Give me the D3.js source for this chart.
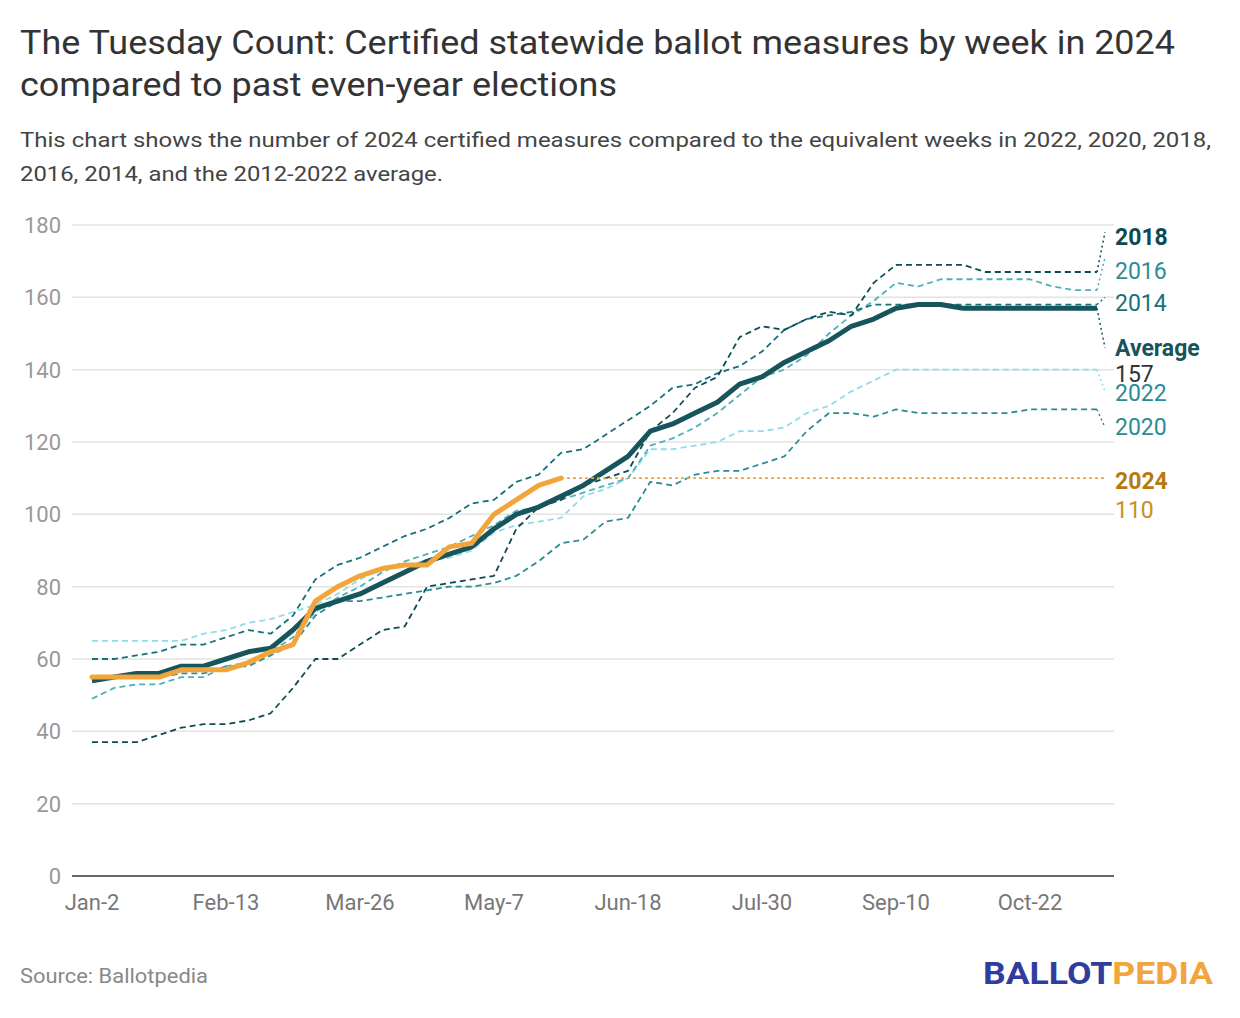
<!DOCTYPE html>
<html><head><meta charset="utf-8">
<script src="https://cdn.jsdelivr.net/npm/d3@7"></script>
<style>body{margin:0;background:#fff;font-family:Roboto,sans-serif}</style></head>
<body><svg id="c" width="1240" height="1018"></svg>
<script>
const weekLabels = ["Jan-2","Feb-13","Mar-26","May-7","Jun-18","Jul-30","Sep-10","Oct-22"];
const yTicks = [0,20,40,60,80,100,120,140,160,180];
const avg = [54,55,56,56,58,58,60,62,63,68,74,76,78,81,84,87,89,91,96,100,102,105,108,112,116,123,125,128,131,136,138,142,145,148,152,154,157,158,158,157,157,157,157,157,157,157];
const y2024 = [55,55,55,55,57,57,57,59,62,64,76,80,83,85,86,86,91,92,100,104,108,110];
const y2018 = [37,37,37,39,41,42,42,43,45,52,60,60,64,68,69,80,81,82,83,96,102,104,108,110,112,123,128,135,138,149,152,151,154,156,155,164,169,169,169,169,167,167,167,167,167,167];
const y2016 = [49,52,53,53,55,55,58,59,62,66,73,77,80,84,87,89,91,94,97,101,102,104,106,108,110,119,121,124,128,133,138,140,144,150,155,159,164,163,165,165,165,165,165,163,162,162];
const y2014 = [60,60,61,62,64,64,66,68,67,72,82,86,88,91,94,96,99,103,104,109,111,117,118,122,126,130,135,136,139,141,145,151,154,155,156,158,158,158,158,158,158,158,158,158,158,158];
const y2022 = [65,65,65,65,65,67,68,70,71,73,75,78,82,85,86,87,88,90,95,97,98,99,105,107,110,118,118,119,120,123,123,124,128,130,134,137,140,140,140,140,140,140,140,140,140,140];
const y2020 = [54,55,55,55,56,56,58,58,61,64,72,76,76,77,78,79,80,80,81,83,87,92,93,98,99,109,108,111,112,112,114,116,123,128,128,127,129,128,128,128,128,128,129,129,129,129];

const svg = d3.select("#c");
const x = d3.scaleLinear().domain([0,45]).range([92,1097]);
const y = d3.scaleLinear().domain([0,180]).range([876,225]);

function T(xp,yp,size,fill,txt,len){
  const t=svg.append("text").attr("x",xp).attr("y",yp).attr("font-size",size).attr("fill",fill).text(txt);
  if(len) t.attr("textLength",len).attr("lengthAdjust","spacingAndGlyphs");
  return t;
}
T(20,54,34,"#333","The Tuesday Count: Certified statewide ballot measures by week in 2024",1155);
T(20,96,34,"#333","compared to past even-year elections",597);
T(20,147,21,"#444","This chart shows the number of 2024 certified measures compared to the equivalent weeks in 2022, 2020, 2018,",1191);
T(20,181,21,"#444","2016, 2014, and the 2012-2022 average.",423);

svg.append("g").selectAll("line").data(yTicks.filter(d=>d>0)).join("line")
  .attr("x1",72).attr("x2",1114).attr("y1",d=>y(d)).attr("y2",d=>y(d)).attr("stroke","#e3e3e3").attr("stroke-width",1.5);
svg.append("line").attr("x1",72).attr("x2",1114).attr("y1",y(0)).attr("y2",y(0)).attr("stroke","#333").attr("stroke-width",1.5);
svg.append("g").selectAll("text").data(yTicks).join("text")
  .attr("x",61).attr("y",d=>y(d)+8).attr("text-anchor","end").attr("font-size",22).attr("fill","#999").text(d=>d);
svg.append("g").selectAll("text").data(weekLabels).join("text")
  .attr("x",(d,i)=>x(i*6)).attr("y",910).attr("text-anchor","middle").attr("font-size",22).attr("fill","#777").text(d=>d);

const line = d3.line().x((d,i)=>x(i)).y(d=>y(d));
function series(data,color,w,dash,labelY){
  svg.append("path").attr("d",line(data)).attr("fill","none").attr("stroke",color).attr("stroke-width",w)
    .attr("stroke-dasharray",dash).attr("stroke-linejoin","round");
  const last = data[data.length-1];
  svg.append("path").attr("d",d3.line()([[x(45),y(last)],[x(45)+8,labelY]])).attr("fill","none")
    .attr("stroke",color).attr("stroke-width",1.5).attr("stroke-dasharray","2,3");
}
series(y2022,"#8fdcec",1.8,"6,4",y(134));
series(y2020,"#2b8c96",1.8,"6,4",y(124));
series(y2016,"#4eb0ba",1.8,"6,4",y(171));
series(y2014,"#17707a",1.8,"6,4",y(160));
series(y2018,"#0e4c55",1.8,"6,4",y(178));
series(avg,"#17545c",5,null,y(146));
svg.append("path").attr("d",d3.line()([[x(21),y(110)],[x(45)+8,y(110)]])).attr("stroke","#f2a53a").attr("stroke-width",1.8).attr("stroke-dasharray","3,3");
svg.append("path").attr("d",line(y2024)).attr("fill","none").attr("stroke","#f2a53a").attr("stroke-width",5).attr("stroke-linejoin","round").attr("stroke-linecap","round");

const labels = [["2018",245,"#0d4a52",700],["2016",279,"#2e8c95",400],["2014",311,"#17727a",400],["Average",356,"#17545c",700],["157",382,"#333",400],["2022",401,"#2a8c95",400],["2020",435,"#2a8c95",400],["2024",489,"#b87a10",700],["110",518,"#c8901e",400]];
svg.append("g").selectAll("text").data(labels).join("text")
  .attr("x",1115).attr("y",d=>d[1]).attr("font-size",23).attr("fill",d=>d[2]).attr("font-weight",d=>d[3]).text(d=>d[0]);

T(20,983,21,"#888","Source: Ballotpedia",188);
const logo = svg.append("text").attr("x",983).attr("y",984).attr("font-size",31).attr("font-weight",700)
  .attr("textLength",230).attr("lengthAdjust","spacingAndGlyphs");
logo.append("tspan").attr("fill","#2f3e9e").text("BALLOT");
logo.append("tspan").attr("fill","#f2a53a").text("PEDIA");
</script></body></html>
